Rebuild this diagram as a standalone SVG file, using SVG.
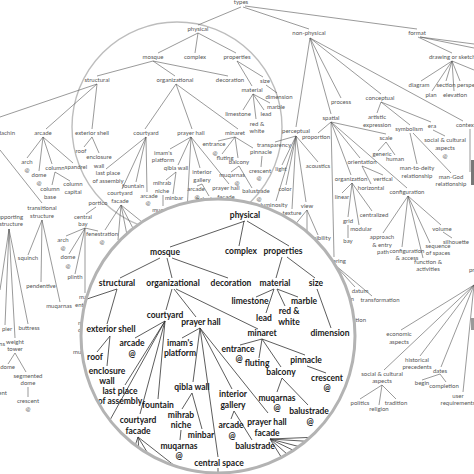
<svg xmlns="http://www.w3.org/2000/svg" width="474" height="474" viewBox="0 0 474 474">
<defs>
<style>
.s{font-family:Lato,"Open Sans",sans-serif;font-size:6px;fill:#555;text-anchor:middle}
.se{text-anchor:end}.ss{text-anchor:start}
.b{font-family:Lato,"Open Sans",sans-serif;font-size:8.5px;font-weight:bold;fill:#1a1a1a;text-anchor:middle}
.ls line{stroke:#555;stroke-width:0.6}
.lb line{stroke:#333;stroke-width:0.8}
</style>
<clipPath id="lens"><circle cx="218" cy="336" r="136"/></clipPath>
</defs>
<rect width="474" height="474" fill="#fff"/>
<circle cx="177" cy="127" r="105" fill="none" stroke="#bdbdbd" stroke-width="1.4"/>
<g id="connectors-background" class="ls">
<line x1="241" y1="7" x2="198" y2="25"/><line x1="243" y1="7" x2="309" y2="29"/><line x1="245" y1="6" x2="417" y2="29"/>
<line x1="418" y1="37" x2="452" y2="53"/><line x1="420" y1="37" x2="474" y2="44"/><line x1="420" y1="37" x2="474" y2="48"/>
<line x1="452" y1="61" x2="421" y2="81"/><line x1="452" y1="61" x2="432" y2="91"/><line x1="452" y1="61" x2="446" y2="81"/><line x1="452" y1="61" x2="454" y2="91"/><line x1="452" y1="61" x2="460" y2="81"/><line x1="452" y1="61" x2="474" y2="70"/>
<line x1="310" y1="38" x2="341" y2="98"/><line x1="310" y1="38" x2="331" y2="114"/><line x1="310" y1="38" x2="296" y2="127"/><line x1="310" y1="38" x2="381" y2="94"/><line x1="310" y1="38" x2="463" y2="121"/>
<line x1="381" y1="102" x2="377" y2="113"/><line x1="381" y1="102" x2="410" y2="125"/><line x1="381" y1="102" x2="431" y2="122"/>
<line x1="433" y1="130" x2="445" y2="136"/>
<line x1="410" y1="133" x2="417" y2="164"/><line x1="413" y1="133" x2="451" y2="173"/>
<line x1="331" y1="122" x2="318" y2="133"/><line x1="331" y1="122" x2="386" y2="134"/><line x1="331" y1="122" x2="334" y2="257"/><line x1="331" y1="122" x2="351" y2="175"/><line x1="331" y1="122" x2="360" y2="158"/><line x1="331" y1="122" x2="407" y2="188"/>
<line x1="386" y1="142" x2="378" y2="151"/><line x1="386" y1="142" x2="395" y2="155"/>
<line x1="362" y1="166" x2="383" y2="175"/><line x1="362" y1="166" x2="371" y2="184"/>
<line x1="352" y1="183" x2="342" y2="193"/><line x1="352" y1="183" x2="348" y2="217"/><line x1="352" y1="183" x2="359" y2="225"/><line x1="352" y1="183" x2="372" y2="211"/>
<line x1="348" y1="225" x2="348" y2="238"/>
<line x1="408" y1="196" x2="383" y2="233"/><line x1="408" y1="196" x2="402" y2="247"/><line x1="408" y1="196" x2="423" y2="258"/><line x1="408" y1="196" x2="430" y2="243"/><line x1="408" y1="196" x2="441" y2="225"/>
<line x1="443" y1="232" x2="452" y2="238"/>
<line x1="296" y1="136" x2="275" y2="142"/><line x1="296" y1="136" x2="318" y2="162"/><line x1="296" y1="136" x2="282" y2="165"/><line x1="296" y1="136" x2="286" y2="185"/><line x1="296" y1="136" x2="276" y2="201"/><line x1="296" y1="136" x2="292" y2="209"/><line x1="296" y1="136" x2="306" y2="202"/>
<line x1="307" y1="210" x2="294" y2="226"/><line x1="307" y1="210" x2="307" y2="233"/><line x1="307" y1="210" x2="318" y2="235"/>
<line x1="335" y1="265" x2="355" y2="287"/><line x1="335" y1="265" x2="372" y2="296"/><line x1="335" y1="265" x2="348" y2="295"/>
<line x1="470" y1="129" x2="470" y2="172"/>
<line x1="474" y1="285" x2="401" y2="330"/><line x1="474" y1="285" x2="384" y2="370"/><line x1="474" y1="285" x2="420" y2="356"/><line x1="474" y1="285" x2="441" y2="367"/><line x1="474" y1="285" x2="463" y2="392"/>
<line x1="440" y1="374" x2="422" y2="380"/><line x1="440" y1="374" x2="446" y2="382"/>
<line x1="382" y1="385" x2="360" y2="399"/><line x1="382" y1="385" x2="379" y2="405"/><line x1="382" y1="385" x2="396" y2="399"/>
<line x1="237" y1="61" x2="252" y2="86"/><line x1="237" y1="61" x2="263" y2="77"/>
<line x1="266" y1="85" x2="277" y2="93"/>
<line x1="253" y1="94" x2="243" y2="110"/><line x1="253" y1="94" x2="256" y2="119"/><line x1="253" y1="94" x2="264" y2="110"/><line x1="253" y1="94" x2="270" y2="103"/>
<line x1="198" y1="33" x2="158" y2="53"/><line x1="198" y1="33" x2="195" y2="53"/><line x1="198" y1="33" x2="236" y2="53"/>
<line x1="153" y1="61" x2="97" y2="76"/><line x1="153" y1="61" x2="175" y2="76"/><line x1="153" y1="61" x2="228" y2="76"/>
<line x1="97" y1="84" x2="92" y2="129"/><line x1="97" y1="84" x2="46" y2="129"/><line x1="97" y1="84" x2="0" y2="117"/>
<line x1="0" y1="150" x2="42" y2="203"/>
<line x1="176" y1="84" x2="145" y2="129"/><line x1="176" y1="84" x2="192" y2="129"/><line x1="176" y1="84" x2="238" y2="129"/>
<line x1="92" y1="137" x2="84" y2="147"/><line x1="92" y1="137" x2="99" y2="153"/>
<line x1="43" y1="137" x2="27" y2="158"/><line x1="43" y1="137" x2="39" y2="171"/><line x1="43" y1="137" x2="52" y2="164"/><line x1="43" y1="137" x2="73" y2="163"/>
<line x1="55" y1="172" x2="52" y2="185"/><line x1="55" y1="172" x2="70" y2="181"/>
<line x1="146" y1="137" x2="106" y2="169"/><line x1="146" y1="137" x2="122" y2="189"/><line x1="146" y1="137" x2="136" y2="182"/><line x1="146" y1="137" x2="147" y2="192"/>
<line x1="191" y1="137" x2="170" y2="149"/><line x1="191" y1="137" x2="178" y2="165"/><line x1="191" y1="137" x2="186" y2="230"/><line x1="191" y1="137" x2="200" y2="168"/><line x1="191" y1="137" x2="229" y2="184"/>
<line x1="176" y1="172" x2="166" y2="180"/><line x1="176" y1="172" x2="173" y2="194"/>
<line x1="163" y1="195" x2="163" y2="206"/>
<line x1="235" y1="137" x2="218" y2="141"/><line x1="235" y1="137" x2="222" y2="154"/><line x1="235" y1="137" x2="238" y2="158"/><line x1="235" y1="137" x2="253" y2="148"/>
<line x1="262" y1="156" x2="261" y2="167"/>
<line x1="239" y1="166" x2="231" y2="172"/><line x1="239" y1="166" x2="252" y2="188"/>
<line x1="202" y1="184" x2="197" y2="186"/><line x1="202" y1="184" x2="209" y2="196"/>
<line x1="121" y1="205" x2="105" y2="230"/><line x1="121" y1="205" x2="118" y2="240"/><line x1="121" y1="205" x2="128" y2="240"/><line x1="121" y1="205" x2="137" y2="236"/><line x1="121" y1="205" x2="147" y2="226"/>
<line x1="96" y1="207" x2="86" y2="214"/>
<line x1="85" y1="228" x2="66" y2="236"/><line x1="85" y1="228" x2="69" y2="254"/><line x1="85" y1="228" x2="75" y2="274"/><line x1="85" y1="228" x2="85" y2="293"/><line x1="85" y1="228" x2="98" y2="231"/>
<line x1="9" y1="229" x2="0" y2="290"/><line x1="9" y1="229" x2="5" y2="325"/><line x1="9" y1="229" x2="15" y2="338"/><line x1="9" y1="229" x2="28" y2="324"/>
<line x1="42" y1="220" x2="28" y2="255"/><line x1="42" y1="220" x2="41" y2="282"/><line x1="42" y1="220" x2="60" y2="302"/>
<line x1="15" y1="353" x2="8" y2="364"/><line x1="15" y1="353" x2="26" y2="372"/>
<line x1="28" y1="387" x2="28" y2="397"/>
</g>
<g id="background-nodes" class="s">
<g id="bg-types"><text x="241" y="4">types</text></g>
<g id="bg-physical"><text x="198" y="31">physical</text></g>
<g id="bg-non-physical"><text x="309" y="35">non-physical</text></g>
<g id="bg-format"><text x="417" y="35">format</text></g>
<g id="bg-mosque"><text x="153" y="59">mosque</text></g>
<g id="bg-complex"><text x="195" y="59">complex</text></g>
<g id="bg-properties"><text x="237" y="59">properties</text></g>
<g id="bg-structural"><text x="97" y="82">structural</text></g>
<g id="bg-organizational"><text x="175" y="82">organizational</text></g>
<g id="bg-decoration"><text x="230" y="82">decoration</text></g>
<g id="bg-size"><text x="265" y="83">size</text></g>
<g id="bg-material"><text x="252" y="92">material</text></g>
<g id="bg-dimension"><text x="279" y="99">dimension</text></g>
<g id="bg-marble"><text x="276" y="109">marble</text></g>
<g id="bg-limestone"><text x="238" y="116">limestone</text></g>
<g id="bg-lead"><text x="266" y="116">lead</text></g>
<g id="bg-redwhite"><text x="257" y="126"><tspan x="257">red &amp;</tspan><tspan x="257" dy="7">white</tspan></text></g>
<g id="bg-drawing"><text class="s ss" x="429" y="59">drawing or sketch</text></g>
<g id="bg-diagram"><text x="419" y="87">diagram</text></g>
<g id="bg-section"><text x="446" y="87">section</text></g>
<g id="bg-perspective"><text class="s ss" x="457" y="87">perspective</text></g>
<g id="bg-plan"><text x="431" y="97">plan</text></g>
<g id="bg-elevation"><text x="455" y="97">elevation</text></g>
<g id="bg-process"><text x="341" y="104">process</text></g>
<g id="bg-conceptual"><text x="380" y="100">conceptual</text></g>
<g id="bg-spatial"><text x="331" y="120">spatial</text></g>
<g id="bg-perceptual"><text x="296" y="133">perceptual</text></g>
<g id="bg-context"><text class="s ss" x="456" y="127">context</text></g>
<g id="bg-artistic"><text x="377" y="119"><tspan x="377">artistic</tspan><tspan x="377" dy="8">expression</tspan></text></g>
<g id="bg-symbolism"><text x="409" y="131">symbolism</text></g>
<g id="bg-era"><text x="432" y="128">era</text></g>
<g id="bg-social1"><text x="445" y="142"><tspan x="445">social &amp; cultural</tspan><tspan x="445" dy="8">aspects</tspan><tspan x="445" dy="8">@</tspan></text></g>
<g id="bg-scale"><text x="386" y="140">scale</text></g>
<g id="bg-generic"><text x="382" y="156">generic</text></g>
<g id="bg-human"><text x="395" y="161">human</text></g>
<g id="bg-proportion"><text x="316" y="139">proportion</text></g>
<g id="bg-transparency"><text x="274" y="147">transparency</text></g>
<g id="bg-acoustics"><text x="318" y="168">acoustics</text></g>
<g id="bg-light"><text x="281" y="171">light</text></g>
<g id="bg-color"><text x="285" y="191">color</text></g>
<g id="bg-luminosity"><text x="274" y="207">luminosity</text></g>
<g id="bg-texture"><text x="292" y="215">texture</text></g>
<g id="bg-view"><text x="307" y="208">view</text></g>
<g id="bg-visibility"><text x="320" y="240">visibility</text></g>
<g id="bg-orientation"><text x="362" y="164">orientation</text></g>
<g id="bg-organization"><text x="351" y="181">organization</text></g>
<g id="bg-vertical"><text x="383" y="181">vertical</text></g>
<g id="bg-horizontal"><text x="371" y="190">horizontal</text></g>
<g id="bg-linear"><text x="342" y="199">linear</text></g>
<g id="bg-centralized"><text x="374" y="217">centralized</text></g>
<g id="bg-grid"><text x="348" y="223">grid</text></g>
<g id="bg-modular"><text x="361" y="231">modular</text></g>
<g id="bg-bay"><text x="348" y="243">bay</text></g>
<g id="bg-configuration"><text x="407" y="194">configuration</text></g>
<g id="bg-mantodeity"><text x="417" y="170"><tspan x="417">man-to-deity</tspan><tspan x="417" dy="8">relationship</tspan></text></g>
<g id="bg-mangod"><text x="451" y="179"><tspan x="451">man-God</tspan><tspan x="451" dy="7">relationship</tspan></text></g>
<g id="bg-volume"><text x="442" y="231">volume</text></g>
<g id="bg-silhouette"><text x="456" y="244">silhouette</text></g>
<g id="bg-approach"><text x="382" y="239"><tspan x="382">approach</tspan><tspan x="382" dy="8">&amp; entry</tspan><tspan x="383" dy="7">path</tspan></text></g>
<g id="bg-configaccess"><text x="407" y="253"><tspan x="407">configuration</tspan><tspan x="407" dy="7">&amp; access</tspan></text></g>
<g id="bg-sequence"><text x="438" y="248"><tspan x="438">sequence</tspan><tspan x="438" dy="7">of spaces</tspan></text></g>
<g id="bg-function"><text x="428" y="264"><tspan x="428">function &amp;</tspan><tspan x="428" dy="7">activities</tspan></text></g>
<g id="bg-layering"><text class="s se" x="346" y="263">layering</text></g>
<g id="bg-datum"><text x="360" y="293">datum</text></g>
<g id="bg-rhythm"><text class="s se" x="354" y="301">rhythm</text></g>
<g id="bg-transformation"><text x="380" y="302">transformation</text></g>
<g id="bg-repetition"><text class="s se" x="366" y="322">repetition</text></g>
<g id="bg-economic"><text x="399" y="336"><tspan x="399">economic</tspan><tspan x="399" dy="8">aspects</tspan></text></g>
<g id="bg-historical"><text x="417" y="362"><tspan x="417">historical</tspan><tspan x="417" dy="7">precedents</tspan></text></g>
<g id="bg-dates"><text x="440" y="373">dates</text></g>
<g id="bg-begin"><text x="422" y="385">begin</text></g>
<g id="bg-completion"><text x="444" y="388">completion</text></g>
<g id="bg-user"><text x="458" y="398"><tspan x="458">user</tspan><tspan x="458" dy="7">requirements</tspan></text></g>
<g id="bg-social2"><text x="382" y="376"><tspan x="382">social &amp; cultural</tspan><tspan x="382" dy="7">aspects</tspan></text></g>
<g id="bg-politics"><text x="360" y="405">politics</text></g>
<g id="bg-religion"><text x="379" y="411">religion</text></g>
<g id="bg-tradition"><text x="396" y="405">tradition</text></g>
<g id="bg-program"><text class="s ss" x="469" y="272">program</text></g>
<g id="bg-baldachin"><text class="s se" x="15" y="135">baldachin</text></g>
<g id="bg-arcade1"><text x="43" y="135">arcade</text></g>
<g id="bg-exterior"><text x="92" y="135">exterior shell</text></g>
<g id="bg-courtyard"><text x="146" y="135">courtyard</text></g>
<g id="bg-prayerhall"><text x="191" y="135">prayer hall</text></g>
<g id="bg-minaret"><text x="235" y="135">minaret</text></g>
<g id="bg-roof"><text x="81" y="153">roof</text></g>
<g id="bg-enclosure"><text x="99" y="159"><tspan x="99">enclosure</tspan><tspan x="99" dy="9">wall</tspan></text></g>
<g id="bg-arch1"><text x="27" y="164"><tspan x="27">arch</tspan><tspan x="27" dy="8">@</tspan></text></g>
<g id="bg-dome1"><text x="39" y="177"><tspan x="39">dome</tspan><tspan x="39" dy="8">@</tspan></text></g>
<g id="bg-column"><text x="55" y="170">column</text></g>
<g id="bg-spandrel"><text x="76" y="169">spandrel</text></g>
<g id="bg-columnbase"><text x="50" y="191"><tspan x="50">column</tspan><tspan x="50" dy="8">base</tspan></text></g>
<g id="bg-columncapital"><text x="73" y="186"><tspan x="73">column</tspan><tspan x="73" dy="8">capital</tspan></text></g>
<g id="bg-lastplace"><text x="108" y="175"><tspan x="108">last place</tspan><tspan x="108" dy="8">of assembly</tspan></text></g>
<g id="bg-portico"><text x="98" y="205">portico</text></g>
<g id="bg-courtyardfacade"><text x="120" y="195"><tspan x="120">courtyard</tspan><tspan x="120" dy="8">facade</tspan></text></g>
<g id="bg-imam"><text x="163" y="155"><tspan x="163">imam's</tspan><tspan x="163" dy="7">platform</tspan></text></g>
<g id="bg-qibla"><text x="176" y="170">qibla wall</text></g>
<g id="bg-mihrab"><text x="162" y="185"><tspan x="162">mihrab</tspan><tspan x="162" dy="8">niche</tspan></text></g>
<g id="bg-minbar"><text x="174" y="200">minbar</text></g>
<g id="bg-muqarnas1"><text x="165" y="212">muqarnas</text></g>
<g id="bg-fountain"><text x="133" y="188">fountain</text></g>
<g id="bg-arcade2"><text x="149" y="198"><tspan x="149">arcade</tspan><tspan x="148" dy="7">@</tspan></text></g>
<g id="bg-entrance"><text x="214" y="146"><tspan x="214">entrance</tspan><tspan x="215" dy="9">@</tspan></text></g>
<g id="bg-fluting"><text x="225" y="160">fluting</text></g>
<g id="bg-balcony"><text x="239" y="164">balcony</text></g>
<g id="bg-pinnacle"><text x="261" y="154">pinnacle</text></g>
<g id="bg-crescent1"><text x="260" y="173"><tspan x="260">crescent</tspan><tspan x="259" dy="7">@</tspan></text></g>
<g id="bg-interior"><text x="202" y="174"><tspan x="202">interior</tspan><tspan x="202" dy="8">gallery</tspan></text></g>
<g id="bg-muqarnas2"><text x="232" y="177"><tspan x="232">muqarnas</tspan><tspan x="237" dy="8">@</tspan></text></g>
<g id="bg-arcade3"><text x="196" y="191"><tspan x="196">arcade</tspan><tspan x="197" dy="8">@</tspan></text></g>
<g id="bg-phfacade"><text x="226" y="190"><tspan x="226">prayer hall</tspan><tspan x="226" dy="9">facade</tspan></text></g>
<g id="bg-balustrade1"><text x="210" y="201">balustrade</text></g>
<g id="bg-balustrade2"><text x="256" y="193"><tspan x="256">balustrade</tspan><tspan x="259" dy="8">@</tspan></text></g>
<g id="bg-supporting"><text class="s se" x="23" y="219"><tspan x="23">supporting</tspan><tspan x="23" dy="7">structure</tspan></text></g>
<g id="bg-transitional"><text x="42" y="210"><tspan x="42">transitional</tspan><tspan x="42" dy="8">structure</tspan></text></g>
<g id="bg-centralbay"><text x="83" y="219"><tspan x="83">central</tspan><tspan x="83" dy="7">bay</tspan></text></g>
<g id="bg-arch2"><text x="63" y="242"><tspan x="63">arch</tspan><tspan x="63" dy="8">@</tspan></text></g>
<g id="bg-dome2"><text x="68" y="259"><tspan x="68">dome</tspan><tspan x="68" dy="9">@</tspan></text></g>
<g id="bg-fenestration"><text x="102" y="236"><tspan x="102">fenestration</tspan><tspan x="102" dy="8">@</tspan></text></g>
<g id="bg-plinth"><text x="75" y="279">plinth</text></g>
<g id="bg-squinch"><text x="28" y="260">squinch</text></g>
<g id="bg-pendentive"><text x="41" y="288">pendentive</text></g>
<g id="bg-muqarnas3"><text x="59" y="308">muqarnas</text></g>
<g id="bg-mainentry"><text class="s ss" x="79" y="299"><tspan x="79">main</tspan><tspan x="75" dy="8">entry</tspan></text></g>
<g id="bg-pier"><text x="7" y="331">pier</text></g>
<g id="bg-buttress"><text x="29" y="330">buttress</text></g>
<g id="bg-weight"><text x="15" y="344"><tspan x="15">weight</tspan><tspan x="15" dy="7">tower</tspan></text></g>
<g id="bg-columns"><text class="s se" x="5" y="346">columns</text></g>
<g id="bg-dome3"><text class="s se" x="15" y="369">dome</text></g>
<g id="bg-segmented"><text x="28" y="378"><tspan x="28">segmented</tspan><tspan x="28" dy="7">dome</tspan></text></g>
<g id="bg-crescent2"><text class="s se" x="7" y="395">crescent</text></g>
<g id="bg-crescent3"><text x="28" y="403"><tspan x="28">crescent</tspan><tspan x="28" dy="8">@</tspan></text></g>
<g id="bg-hidden1"><text class="s ss" x="78" y="325">muqarnas</text></g>
<g id="bg-hidden2"><text class="s ss" x="78" y="332">dome</text></g>
<g id="bg-hidden3"><text class="s ss" x="73" y="354">muqarnas</text></g>
</g>
<rect x="471" y="160" width="3" height="25" fill="#777"/>
<rect x="471" y="318" width="3" height="12" fill="#999"/>
<circle cx="218" cy="336" r="137" fill="#fff"/>
<g clip-path="url(#lens)">
<g id="connectors-lens" class="lb">
<line x1="245" y1="221" x2="170" y2="247"/><line x1="244" y1="221" x2="239" y2="246"/><line x1="247" y1="221" x2="289" y2="246"/>
<line x1="160" y1="258" x2="120" y2="278"/><line x1="167" y1="258" x2="172" y2="278"/><line x1="172" y1="258" x2="228" y2="278"/>
<line x1="282" y1="257" x2="276" y2="278"/><line x1="287" y1="257" x2="315" y2="278"/>
<line x1="274" y1="289" x2="256" y2="297"/><line x1="277" y1="289" x2="298" y2="297"/><line x1="274" y1="289" x2="266" y2="313"/><line x1="277" y1="289" x2="285" y2="306"/>
<line x1="317" y1="289" x2="331" y2="328"/>
<line x1="172" y1="289" x2="166" y2="310"/><line x1="174" y1="289" x2="196" y2="317"/><line x1="176" y1="289" x2="258" y2="329"/>
<line x1="117" y1="289" x2="84" y2="300"/><line x1="117" y1="289" x2="107" y2="324"/>
<line x1="165" y1="321" x2="135" y2="338"/><line x1="165" y1="321" x2="125" y2="385"/><line x1="165" y1="321" x2="110" y2="420"/><line x1="165" y1="321" x2="158" y2="399"/><line x1="165" y1="321" x2="140" y2="414"/>
<line x1="110" y1="336" x2="97" y2="352"/><line x1="110" y1="336" x2="107" y2="366"/>
<line x1="200" y1="328" x2="182" y2="338"/><line x1="200" y1="328" x2="193" y2="382"/><line x1="200" y1="328" x2="218" y2="457"/><line x1="200" y1="328" x2="232" y2="389"/><line x1="200" y1="328" x2="268" y2="413"/>
<line x1="262" y1="339" x2="240" y2="345"/><line x1="262" y1="339" x2="259" y2="358"/><line x1="262" y1="339" x2="281" y2="367"/><line x1="262" y1="339" x2="305" y2="355"/>
<line x1="307" y1="366" x2="326" y2="373"/>
<line x1="282" y1="378" x2="277" y2="392"/><line x1="282" y1="378" x2="308" y2="405"/>
<line x1="192" y1="393" x2="182" y2="409"/><line x1="192" y1="393" x2="202" y2="429"/>
<line x1="181" y1="430" x2="180" y2="440"/>
<line x1="234" y1="411" x2="231" y2="419"/><line x1="234" y1="411" x2="252" y2="440"/>
<line x1="138" y1="437" x2="133" y2="452"/><line x1="138" y1="437" x2="139" y2="452"/><line x1="138" y1="437" x2="147" y2="452"/><line x1="138" y1="437" x2="180" y2="470"/>
<line x1="270" y1="439" x2="320" y2="437"/><line x1="270" y1="439" x2="318" y2="442"/><line x1="270" y1="439" x2="312" y2="450"/><line x1="270" y1="439" x2="305" y2="456"/><line x1="270" y1="439" x2="296" y2="462"/><line x1="270" y1="439" x2="288" y2="468"/>
<line x1="218" y1="468" x2="218" y2="474"/>
</g>
<g id="lens-nodes" class="b">
<g id="n-physical"><text x="245" y="218">physical</text></g>
<g id="n-mosque"><text x="165" y="255">mosque</text></g>
<g id="n-complex"><text x="241" y="254">complex</text></g>
<g id="n-properties"><text x="283" y="254">properties</text></g>
<g id="n-structural"><text x="117" y="286">structural</text></g>
<g id="n-organizational"><text x="173" y="286">organizational</text></g>
<g id="n-decoration"><text x="231" y="286">decoration</text></g>
<g id="n-material"><text x="275" y="286">material</text></g>
<g id="n-size"><text x="316" y="286">size</text></g>
<g id="n-limestone"><text x="250" y="304">limestone</text></g>
<g id="n-marble"><text x="304" y="304">marble</text></g>
<g id="n-lead"><text x="264" y="321">lead</text></g>
<g id="n-redwhite"><text x="289" y="314"><tspan x="289">red &amp;</tspan><tspan x="289" dy="11">white</tspan></text></g>
<g id="n-minaret"><text x="262" y="336">minaret</text></g>
<g id="n-dimension"><text x="330" y="336">dimension</text></g>
<g id="n-courtyard"><text x="165" y="318">courtyard</text></g>
<g id="n-prayerhall"><text x="201" y="325">prayer hall</text></g>
<g id="n-exterior"><text x="111" y="332">exterior shell</text></g>
<g id="n-arcade1"><text x="132" y="346"><tspan x="132">arcade</tspan><tspan x="132" dy="11">@</tspan></text></g>
<g id="n-imam"><text x="180" y="346"><tspan x="180">imam's</tspan><tspan x="180" dy="10">platform</tspan></text></g>
<g id="n-entrance"><text x="238" y="352"><tspan x="238">entrance</tspan><tspan x="239" dy="10">@</tspan></text></g>
<g id="n-fluting"><text x="257" y="366">fluting</text></g>
<g id="n-balcony"><text x="281" y="375">balcony</text></g>
<g id="n-pinnacle"><text x="306" y="363">pinnacle</text></g>
<g id="n-crescent"><text x="327" y="381"><tspan x="327">crescent</tspan><tspan x="327" dy="10">@</tspan></text></g>
<g id="n-roof"><text x="95" y="360">roof</text></g>
<g id="n-enclosure"><text x="107" y="374"><tspan x="107">enclosure</tspan><tspan x="107" dy="10">wall</tspan></text></g>
<g id="n-qibla"><text x="192" y="390">qibla wall</text></g>
<g id="n-interior"><text x="233" y="397"><tspan x="233">interior</tspan><tspan x="233" dy="11">gallery</tspan></text></g>
<g id="n-muqarnas1"><text x="277" y="401"><tspan x="277">muqarnas</tspan><tspan x="277" dy="10">@</tspan></text></g>
<g id="n-lastplace"><text x="120" y="394"><tspan x="120">last place</tspan><tspan x="120" dy="10">of assembly</tspan></text></g>
<g id="n-fountain"><text x="158" y="408">fountain</text></g>
<g id="n-balustrade1"><text x="309" y="414"><tspan x="309">balustrade</tspan><tspan x="310" dy="11">@</tspan></text></g>
<g id="n-mihrab"><text x="181" y="418"><tspan x="181">mihrab</tspan><tspan x="181" dy="10">niche</tspan></text></g>
<g id="n-phfacade"><text x="267" y="425"><tspan x="267">prayer hall</tspan><tspan x="267" dy="11">facade</tspan></text></g>
<g id="n-arcade2"><text x="231" y="428"><tspan x="231">arcade</tspan><tspan x="232" dy="11">@</tspan></text></g>
<g id="n-courtyardfacade"><text x="138" y="423"><tspan x="138">courtyard</tspan><tspan x="138" dy="11">facade</tspan></text></g>
<g id="n-minbar"><text x="201" y="438">minbar</text></g>
<g id="n-balustrade2"><text x="255" y="449">balustrade</text></g>
<g id="n-muqarnas2"><text x="179" y="449"><tspan x="179">muqarnas</tspan><tspan x="179" dy="10">@</tspan></text></g>
<g id="n-centralspace"><text x="219" y="466">central space</text></g>
</g>
</g>
<circle cx="218" cy="336" r="137" fill="none" stroke="#b3b3b3" stroke-width="3"/>
</svg>
